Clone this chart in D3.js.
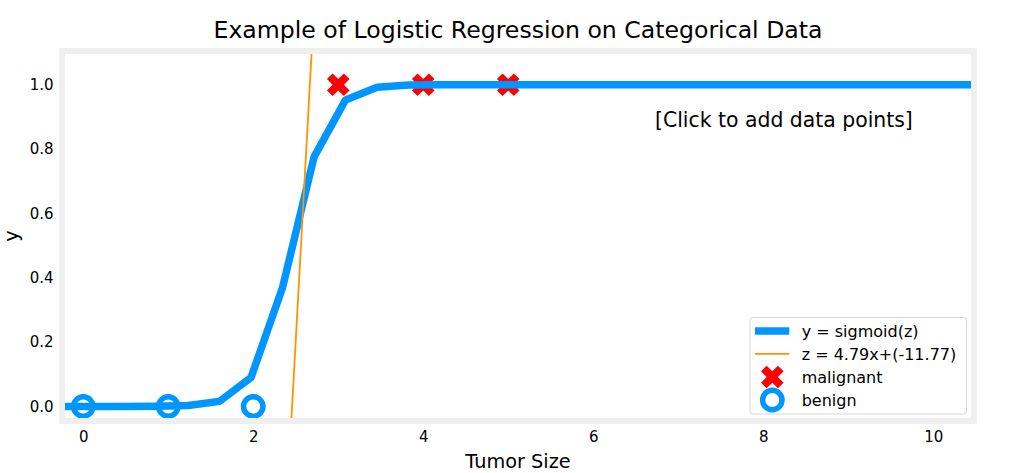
<!DOCTYPE html>
<html>
<head>
<meta charset="utf-8">
<script src="https://cdn.jsdelivr.net/npm/d3@7"></script>
<style>
  body { margin: 0; background: #fff; }
  text { font-family: "DejaVu Sans", sans-serif; fill: #000; }
</style>
</head>
<body>
<div id="chart"></div>
<script>
// tumor size samples along the fitted curve and the model output
var curveX = [-0.25, 0.121, 0.491, 0.862, 1.233, 1.603, 1.974, 2.345, 2.716, 3.086, 3.457, 3.828, 4.198, 4.569, 6.052, 8.276, 10.5];
var curveY = [0.0, 0.0, 0.0, 0.0005, 0.003, 0.016, 0.09, 0.37, 0.776, 0.953, 0.992, 0.999, 1.0, 1.0, 1.0, 1.0, 1.0];

// linear part z = w*x + b
var w = 4.79;
var b = -11.77;

var malignantX = [3, 4, 5];
var malignantY = [1, 1, 1];
var benignX = [0, 1, 2];
var benignY = [0, 0, 0];

var xTicks = [0, 2, 4, 6, 8, 10];
var yTicks = [0.0, 0.2, 0.4, 0.6, 0.8, 1.0];

var legendLabels = ['y = sigmoid(z)', 'z = 4.79x+(-11.77)', 'malignant', 'benign'];

var blue = '#0096ff';
var orange = '#ff9300';
var red = '#ff0000';

var width = 1024;
var height = 473;
var plot = { left: 62, right: 974, top: 51, bottom: 421 };

var x = d3.scaleLinear().domain([-0.25, 10.48]).range([plot.left, plot.right]);
var y = d3.scaleLinear().domain([-0.045, 1.105]).range([plot.bottom, plot.top]);

var svg = d3.select('#chart').append('svg')
  .attr('width', width)
  .attr('height', height);

svg.append('defs').append('clipPath')
  .attr('id', 'clip')
  .append('rect')
  .attr('x', plot.left)
  .attr('y', plot.top)
  .attr('width', plot.right - plot.left)
  .attr('height', plot.bottom - plot.top);

// filled "X" marker like matplotlib's, a plus turned by 45 degrees
function xMarker(size) {
  var pts = [[-1, -3], [1, -3], [1, -1], [3, -1], [3, 1], [1, 1], [1, 3], [-1, 3], [-1, 1], [-3, 1], [-3, -1], [-1, -1]];
  var c = Math.SQRT1_2;
  return 'M' + pts.map(function (p) {
    var px = (p[0] * c - p[1] * c) * size / 6;
    var py = (p[0] * c + p[1] * c) * size / 6;
    return px.toFixed(2) + ',' + py.toFixed(2);
  }).join('L') + 'Z';
}

var g = svg.append('g').attr('clip-path', 'url(#clip)');

// data points
g.selectAll('circle.benign')
  .data(benignX)
  .enter()
  .append('circle')
  .attr('class', 'benign')
  .attr('cx', function (d) { return x(d); })
  .attr('cy', function (d, i) { return y(benignY[i]); })
  .attr('r', 9.7)
  .attr('fill', 'none')
  .attr('stroke', blue)
  .attr('stroke-width', 5.5);

g.selectAll('path.malignant')
  .data(malignantX)
  .enter()
  .append('path')
  .attr('class', 'malignant')
  .attr('d', xMarker(24))
  .attr('transform', function (d, i) { return 'translate(' + x(d) + ',' + y(malignantY[i]) + ')'; })
  .attr('fill', red);

// sigmoid curve
var line = d3.line()
  .x(function (d) { return x(d[0]); })
  .y(function (d) { return y(d[1]); });

g.append('path')
  .datum(curveX.map(function (d, i) { return [d, curveY[i]]; }))
  .attr('d', line)
  .attr('fill', 'none')
  .attr('stroke', blue)
  .attr('stroke-width', 7.5)
  .attr('stroke-linejoin', 'round');

// z line
var xd = x.domain();
g.append('path')
  .datum([[xd[0], w * xd[0] + b], [xd[1], w * xd[1] + b]])
  .attr('d', line)
  .attr('fill', 'none')
  .attr('stroke', orange)
  .attr('stroke-width', 1.8);

// frame
svg.append('rect')
  .attr('x', plot.left)
  .attr('y', plot.top)
  .attr('width', plot.right - plot.left)
  .attr('height', plot.bottom - plot.top)
  .attr('fill', 'none')
  .attr('stroke', '#efefef')
  .attr('stroke-width', 6);

// axes
var xAxis = svg.append('g')
  .attr('transform', 'translate(0,' + plot.bottom + ')')
  .call(d3.axisBottom(x).tickValues(xTicks).tickFormat(d3.format('d')).tickSize(0).tickPadding(10));

var yAxis = svg.append('g')
  .attr('transform', 'translate(' + plot.left + ',0)')
  .call(d3.axisLeft(y).tickValues(yTicks).tickFormat(d3.format('.1f')).tickSize(0).tickPadding(8.5));

[xAxis, yAxis].forEach(function (a) {
  a.select('.domain').remove();
  a.selectAll('text')
    .style('font-family', '"DejaVu Sans", sans-serif')
    .style('font-size', '15px')
    .attr('fill', '#000');
});

// titles
svg.append('text')
  .attr('x', (plot.left + plot.right) / 2)
  .attr('y', 38)
  .attr('text-anchor', 'middle')
  .style('font-size', '23.6px')
  .text('Example of Logistic Regression on Categorical Data');

svg.append('text')
  .attr('x', (plot.left + plot.right) / 2)
  .attr('y', 468)
  .attr('text-anchor', 'middle')
  .style('font-size', '19.3px')
  .text('Tumor Size');

svg.append('text')
  .attr('transform', 'translate(17.5,' + (plot.top + plot.bottom) / 2 + ') rotate(-90)')
  .attr('text-anchor', 'middle')
  .style('font-size', '19.3px')
  .text('y');

svg.append('text')
  .attr('x', 655)
  .attr('y', 127)
  .style('font-size', '20.4px')
  .text('[Click to add data points]');

// legend
var legend = svg.append('g').attr('transform', 'translate(750,317.5)');

legend.append('rect')
  .attr('width', 216.5)
  .attr('height', 96.5)
  .attr('rx', 3)
  .attr('fill', '#fff')
  .attr('stroke', '#d4d4d4')
  .attr('stroke-width', 1);

var rowY = [13.5, 36.3, 59.5, 82.5];

legend.append('line')
  .attr('x1', 5).attr('x2', 39.3)
  .attr('y1', rowY[0]).attr('y2', rowY[0])
  .attr('stroke', blue)
  .attr('stroke-width', 7.5);

legend.append('line')
  .attr('x1', 5).attr('x2', 39.3)
  .attr('y1', rowY[1]).attr('y2', rowY[1])
  .attr('stroke', orange)
  .attr('stroke-width', 1.8);

legend.append('path')
  .attr('d', xMarker(24))
  .attr('transform', 'translate(22.3,' + rowY[2] + ')')
  .attr('fill', red);

legend.append('circle')
  .attr('cx', 22.3)
  .attr('cy', rowY[3])
  .attr('r', 9.7)
  .attr('fill', 'none')
  .attr('stroke', blue)
  .attr('stroke-width', 5.5);

legend.selectAll('text.label')
  .data(legendLabels)
  .enter()
  .append('text')
  .attr('class', 'label')
  .attr('x', 51.7)
  .attr('y', function (d, i) { return rowY[i] + 5.8; })
  .style('font-size', '16px')
  .text(function (d) { return d; });
</script>
</body>
</html>
